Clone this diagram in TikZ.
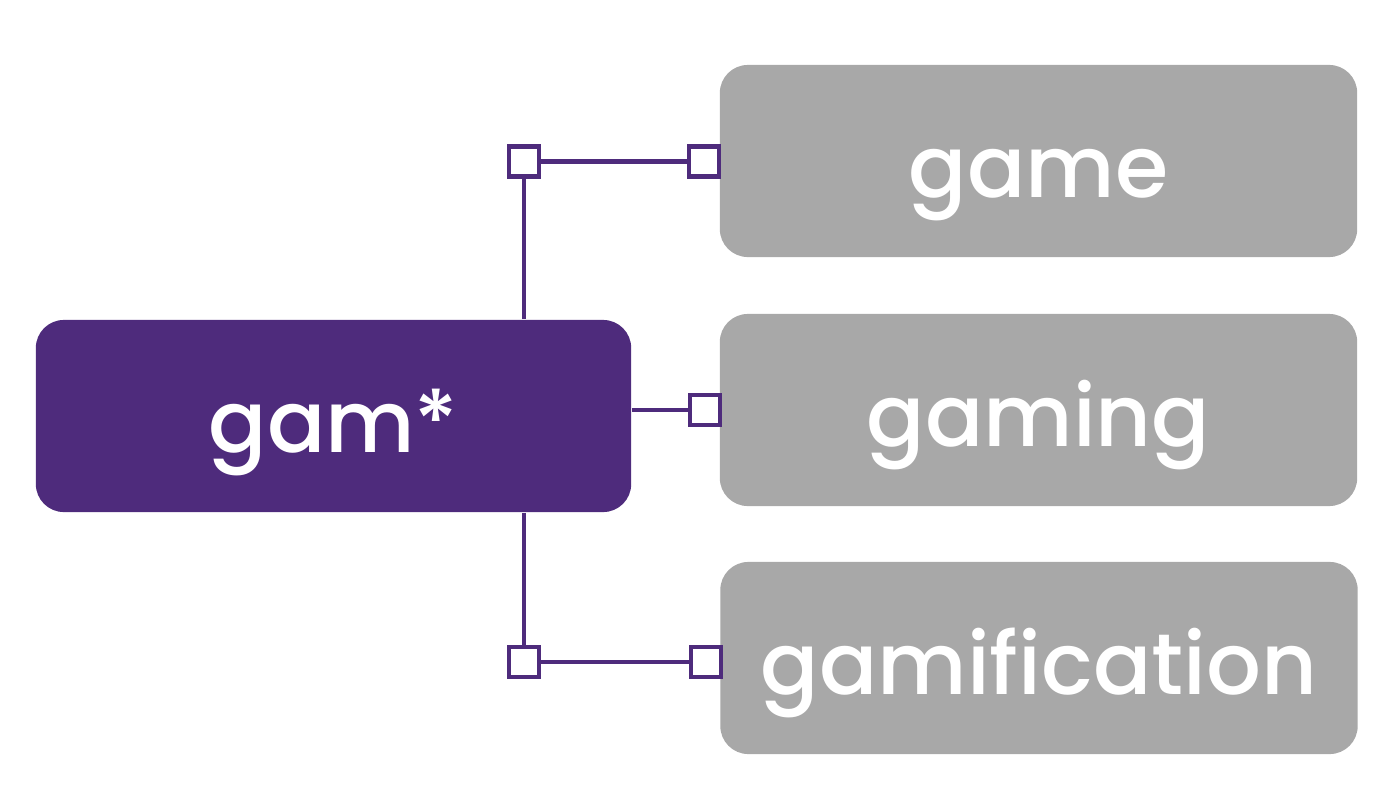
\documentclass[tikz,border=0pt]{standalone}
\usepackage{fontspec}
\setmainfont{Poppins}[UprightFont=* Medium]
\usetikzlibrary{positioning,calc}
\definecolor{gampurple}{HTML}{4E2B7C}
\definecolor{boxgrey}{HTML}{A8A8A8}

\begin{document}
\begin{tikzpicture}[x=0.01cm,y=-0.01cm,font=\fontsize{24.5}{30}\selectfont,
  term/.style={rounded corners=0.28cm,minimum height=1.92cm,text=white,inner sep=0pt,
    text height=0.72cm,text depth=0pt},
  stem/.style={term,fill=gampurple,minimum width=5.95cm},
  hit/.style={term,fill=boxgrey,minimum width=6.37cm},
  knob/.style={draw=gampurple,line width=1.4pt,fill=white,minimum size=0.3cm,inner sep=0pt},
  link/.style={draw=gampurple,line width=1.4pt}]
\useasboundingbox (0,0) rectangle (1391,809);
% boxes
\node[stem] (gam) at (333.5,416) {gam*};
\node[hit] (game) at (1038.5,161) {game};
\node[hit] (gaming) at (1038.5,410) {gaming};
\node[hit] (gamif) at (1039,658) {gamification};
% connectors
\node[knob] (k1a) at (524,161.5) {};
\node[knob] (k1b) at (704,161.5) {};
\node[knob] (k2) at (705,410) {};
\node[knob] (k3a) at (524,662) {};
\node[knob] (k3b) at (706,662) {};
\draw[link] (k1a |- gam.north) -- (k1a);
\draw[link] (k1a) -- (k1b);
\draw[link] (gam.east |- k2) -- (k2);
\draw[link] (k3a |- gam.south) -- (k3a);
\draw[link] (k3a) -- (k3b);
\end{tikzpicture}
\end{document}
